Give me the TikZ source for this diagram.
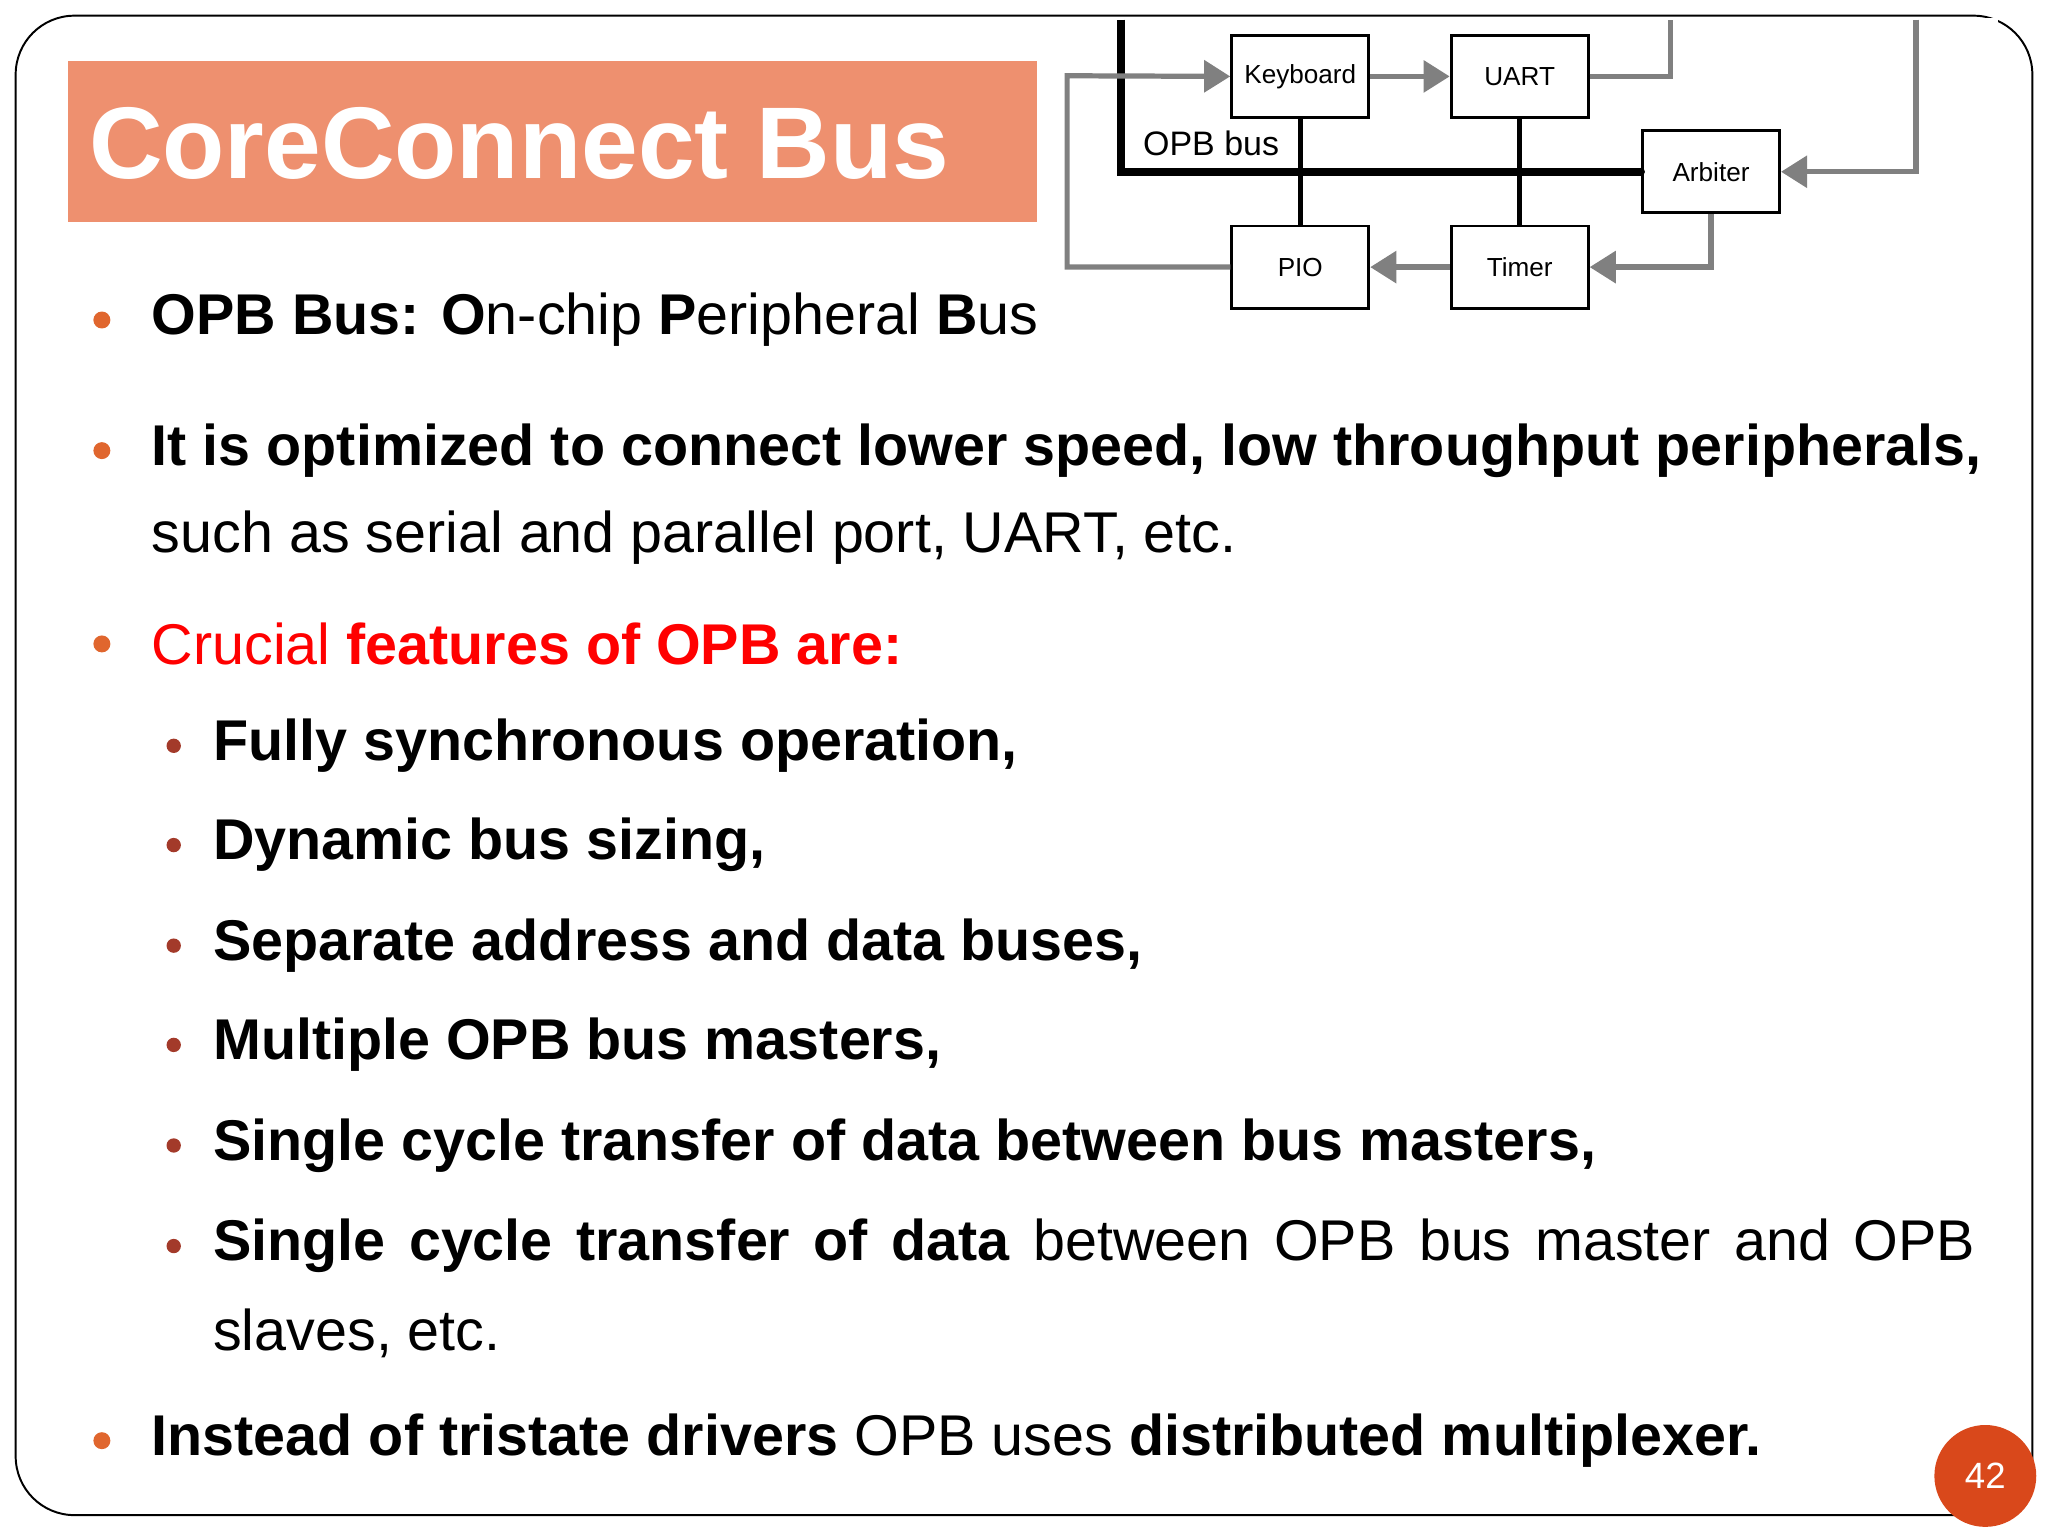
\documentclass[tikz,border=0pt]{standalone}
\usepackage{fontspec}
\setmainfont{Liberation Sans}
\usetikzlibrary{arrows.meta}
\definecolor{ttl}{HTML}{EE906F}
\definecolor{bul}{HTML}{E0662E}
\definecolor{sbul}{HTML}{A33A2A}
\definecolor{pg}{HTML}{D9481B}
\definecolor{gl}{HTML}{808080}
\begin{document}
\begin{tikzpicture}[x=1pt,y=-1pt,
  blk/.style={draw,line width=2.2pt,minimum width=105pt,minimum height=63pt,inner sep=0pt,font=\fontsize{20}{22}\selectfont},
  bus/.style={line width=6pt},
  tap/.style={line width=4pt},
  gline/.style={draw=gl,line width=4pt},
  garr/.style={gline,-{Triangle[length=20pt,width=24pt]}},
  txt/.style={anchor=west,inner sep=0pt,font=\fontsize{44}{67}\selectfont},
  dot/.style={circle,fill=bul,inner sep=0pt,minimum size=13pt},
  sdot/.style={circle,fill=sbul,inner sep=0pt,minimum size=11pt}]
\useasboundingbox (0,0) rectangle (1568,1176);
\draw[line width=1.5pt,rounded corners=45pt] (12,12) rectangle (1556,1160);
\fill[ttl] (52,47) rectangle (794,170);
\node[anchor=base west,inner sep=0pt,text=white,font=\fontsize{78}{80}\selectfont\bfseries] (title) at (68,137) {CoreConnect Bus};
% diagram
\fill[white] (800,14) rectangle (1530,245);
\node[blk] (kb) at (995.5,58.5) {Keyboard};
\node[blk] (uart) at (1163.5,58.5) {UART};
\node[blk] (arb) at (1310,131.5) {Arbiter};
\node[blk] (pio) at (995.5,204.5) {PIO};
\node[blk] (tim) at (1163.5,204.5) {Timer};
\coordinate (bustop) at (858,15);
\coordinate (uarttop) at (1279,15);
\coordinate (arbtop) at (1467,15);
\draw[bus] (bustop) |- (arb.west);
\fill (arb.west) circle (3pt);
\draw[tap] (kb.south) -- (pio.north);
\draw[tap] (uart.south) -- (tim.north);
\node[anchor=west,inner sep=0pt,font=\fontsize{26}{28}\selectfont] (lbl) at (875,110) {OPB bus};
\draw[garr] (pio.west) -| (817,58) -- (kb.west);
\draw[garr] (kb.east) -- (uart.west);
\draw[gline] (uart.east) -| (uarttop);
\draw[garr] (arbtop) |- (arb.east);
\draw[garr] (arb.south) |- (tim.east);
\draw[garr] (tim.west) -- (pio.east);
% text
\node[dot] (b1) at (78,245) {};
\node[txt] (t1) at (116,245) {\textbf{OPB Bus: O}n-chip \textbf{P}eripheral \textbf{B}us};
\node[dot] (b2) at (78,345) {};
\node[txt] (t2) at (116,345) {\textbf{It is optimized to connect lower speed, low throughput peripherals,}};
\node[txt] (t2b) at (116,412) {such as serial and parallel port, UART, etc.};
\node[dot] (b3) at (78,493) {};
\node[txt,text=red] (t3) at (116,493) {Crucial \textbf{features of OPB are:}};
\foreach \y/\t [count=\i] in {571/{Fully synchronous operation,},647/{Dynamic bus sizing,},724/{Separate address and data buses,},800/{Multiple OPB bus masters,},877/{Single cycle transfer of data between bus masters,}}{
  \node[sdot] (s\i) at (133,\y) {};
  \node[txt] (st\i) at (163,\y) {\textbf{\t}};
}
\node[sdot] (s6) at (133,954) {};
\node[txt] (st6) at (163,954) {\makebox[1349pt][s]{\textbf{Single cycle transfer of data} between OPB bus master and OPB}};
\node[txt] (st6b) at (163,1021) {slaves, etc.};
\node[dot] (b4) at (78,1103) {};
\node[txt] (t4) at (116,1103) {\textbf{Instead of tristate drivers} OPB uses \textbf{distributed multiplexer.}};
\node[circle,fill=pg,minimum size=78pt,inner sep=0pt,text=white,font=\fontsize{28}{30}\selectfont] (pg) at (1520,1130) {42};
\end{tikzpicture}
\end{document}
